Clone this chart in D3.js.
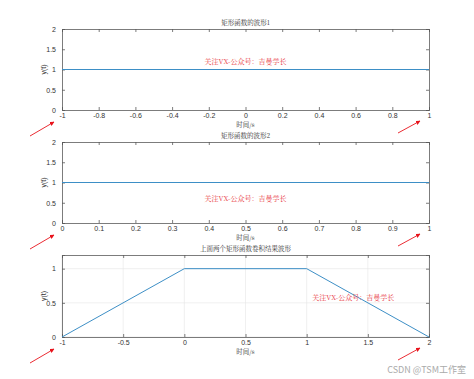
<!DOCTYPE html>
<html>
<head>
<meta charset="utf-8">
<script src="https://cdn.jsdelivr.net/npm/d3@7"></script>
<style>
body { margin: 0; background: #fff; }
text { font-family: "Liberation Sans", Arial, sans-serif; }
.cjk { font-family: "Noto Serif CJK SC", "Noto Sans CJK SC", serif; }
</style>
</head>
<body>
<div id="chart"></div>
<script>
var width = 474, height = 379;

// data for the three panels
var t1 = [-1, 1], y1 = [1, 1];
var t2 = [0, 1], y2 = [1, 1];
var t3 = [-1, 0, 1, 2], y3 = [0, 1, 1, 0];

var titles = ['矩形函数的波形1', '矩形函数的波形2', '上面两个矩形函数卷积结果波形'];
var xTicks1 = [-1, -0.8, -0.6, -0.4, -0.2, 0, 0.2, 0.4, 0.6, 0.8, 1];
var xTicks2 = [0, 0.1, 0.2, 0.3, 0.4, 0.5, 0.6, 0.7, 0.8, 0.9, 1];
var xTicks3 = [-1, -0.5, 0, 0.5, 1, 1.5, 2];
var yTicks12 = [0, 0.5, 1, 1.5, 2];
var yTicks3 = [0, 0.5, 1];
var note = '关注VX-公众号：吉曼学长';

var panels = [
  {t: t1, y: y1, xd: [-1, 1], yd: [0, 2], xt: xTicks1, yt: yTicks12, top: 29, bottom: 110, grid: false, note: [0, 1.2]},
  {t: t2, y: y2, xd: [0, 1], yd: [0, 2], xt: xTicks2, yt: yTicks12, top: 142, bottom: 223, grid: false, note: [0.5, 0.6]},
  {t: t3, y: y3, xd: [-1, 2], yd: [0, 1.2], xt: xTicks3, yt: yTicks3, top: 255, bottom: 337, grid: true, note: [1.38, 0.58]}
];

var left = 62, right = 429;

var svg = d3.select("#chart").append("svg")
    .attr("width", width)
    .attr("height", height);

svg.append("defs").append("marker")
    .attr("id", "arr")
    .attr("viewBox", "0 0 10 10")
    .attr("refX", 9).attr("refY", 5)
    .attr("markerWidth", 5).attr("markerHeight", 5)
    .attr("orient", "auto")
  .append("path")
    .attr("d", "M0,0L10,5L0,10z")
    .attr("fill", "#e8141c");

panels.forEach(function(p, i) {
  var x = d3.scaleLinear().domain(p.xd).range([left, right]);
  var y = d3.scaleLinear().domain(p.yd).range([p.bottom, p.top]);
  var g = svg.append("g");

  if (p.grid) {
    g.selectAll(".gx").data(p.xt).enter().append("line")
      .attr("x1", function(d){return x(d);}).attr("x2", function(d){return x(d);})
      .attr("y1", p.top).attr("y2", p.bottom)
      .style("stroke", "#e6e6e6").style("stroke-width", 0.6);
    g.selectAll(".gy").data(p.yt).enter().append("line")
      .attr("y1", function(d){return y(d);}).attr("y2", function(d){return y(d);})
      .attr("x1", left).attr("x2", right)
      .style("stroke", "#e6e6e6").style("stroke-width", 0.6);
  }

  // axes with inward ticks on all four sides
  var fmt = function(d){return String(+d.toFixed(2));};
  var ax = [
    g.append("g").attr("transform", "translate(0," + p.bottom + ")")
      .call(d3.axisBottom(x).tickValues(p.xt).tickSize(-3).tickPadding(3).tickFormat(fmt)),
    g.append("g").attr("transform", "translate(0," + p.top + ")")
      .call(d3.axisTop(x).tickValues(p.xt).tickSize(-3).tickFormat("")),
    g.append("g").attr("transform", "translate(" + left + ",0)")
      .call(d3.axisLeft(y).tickValues(p.yt).tickSize(-3).tickPadding(6).tickFormat(fmt)),
    g.append("g").attr("transform", "translate(" + right + ",0)")
      .call(d3.axisRight(y).tickValues(p.yt).tickSize(-3).tickFormat(""))
  ];
  ax.forEach(function(a) {
    a.select(".domain").style("stroke", "#5a5a5a").style("stroke-width", 0.8);
    a.selectAll(".tick line").style("stroke", "#5a5a5a").style("stroke-width", 0.8);
    a.selectAll("text").style("font-size", "7px").style("fill", "#333")
      .style("font-family", "Liberation Sans, Arial, sans-serif");
  });

  var line = d3.line().x(function(d){return x(d[0]);}).y(function(d){return y(d[1]);});
  g.append("path")
    .datum(d3.zip(p.t, p.y))
    .attr("d", line)
    .style("fill", "none")
    .style("stroke", "#3d8fc6")
    .style("stroke-width", 1);

  g.append("text").attr("class", "cjk")
    .attr("x", (left + right) / 2).attr("y", p.top - 4)
    .attr("text-anchor", "middle")
    .style("font-size", "6.5px").style("fill", "#333")
    .text(titles[i]);

  g.append("text").attr("class", "cjk")
    .attr("x", (left + right) / 2).attr("y", p.bottom + 17)
    .attr("text-anchor", "middle")
    .style("font-size", "6.5px").style("fill", "#333")
    .text("时间/s");

  g.append("text")
    .attr("transform", "translate(" + (left - 16) + "," + ((p.top + p.bottom) / 2) + ")rotate(-90)")
    .attr("text-anchor", "middle")
    .style("font-size", "7px").style("fill", "#333")
    .text("y(t)");

  g.append("text").attr("class", "cjk")
    .attr("x", x(p.note[0])).attr("y", y(p.note[1]))
    .attr("text-anchor", "middle")
    .attr("dy", "0.35em")
    .style("font-size", "7px").style("fill", "#e8333a")
    .text(note);

  // red annotation arrows toward the x-axis ends
  var arrows = [
    [left - 32, p.bottom + 26, left - 8, p.bottom + 12],
    [right - 31, p.bottom + 23, right - 9, p.bottom + 11]
  ];
  g.selectAll(".arrow").data(arrows).enter().append("line")
    .attr("x1", function(d){return d[0];}).attr("y1", function(d){return d[1];})
    .attr("x2", function(d){return d[2];}).attr("y2", function(d){return d[3];})
    .style("stroke", "#e8141c").style("stroke-width", 0.9)
    .attr("marker-end", "url(#arr)");
});

svg.append("text").attr("class", "cjk")
  .attr("x", 466).attr("y", 373)
  .attr("text-anchor", "end")
  .style("font-size", "9px").style("fill", "#aaa")
  .style("font-family", "Noto Sans CJK SC, sans-serif")
  .text("CSDN @TSM工作室");
</script>
</body>
</html>
